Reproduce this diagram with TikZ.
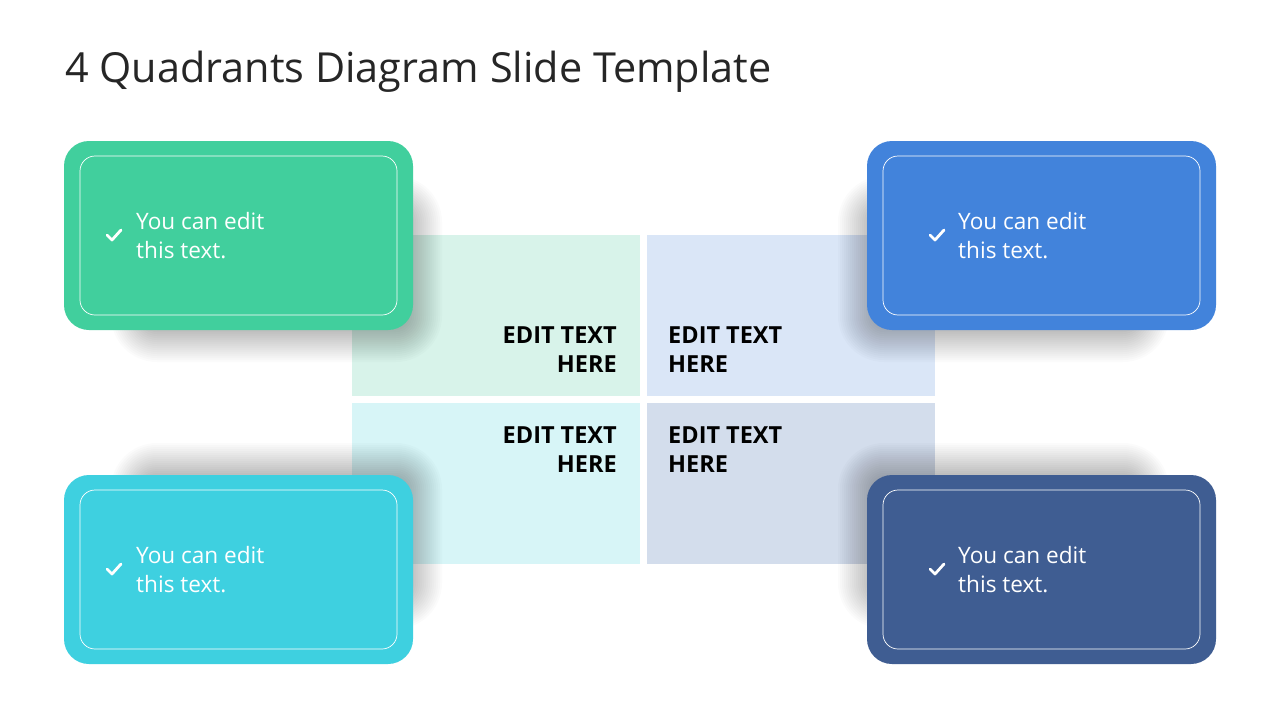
\documentclass[tikz,border=0pt]{standalone}
\usepackage{fontspec}
\setmainfont{Open Sans}
\definecolor{cgreen}{HTML}{41CF9D}
\definecolor{cblue}{HTML}{4283DB}
\definecolor{ccyan}{HTML}{3ED0E0}
\definecolor{cnavy}{HTML}{3F5D92}
\definecolor{qgreen}{HTML}{D8F3EA}
\definecolor{qblue}{HTML}{DAE6F7}
\definecolor{qcyan}{HTML}{D7F5F7}
\definecolor{qnavy}{HTML}{D3DDEC}
\definecolor{titlecol}{HTML}{262626}
\tikzset{
  card/.style={rectangle, rounded corners=25pt, minimum width=349pt, minimum height=189pt, inner sep=0pt},
  inner/.style={rectangle, rounded corners=15pt, minimum width=317pt, minimum height=159pt, inner sep=0pt, draw=white, line width=0.7pt},
  quad/.style={rectangle, minimum width=288pt, minimum height=161pt, inner sep=0pt},
  cardtxt/.style={text=white, font=\fontsize{22.6}{27}\selectfont, inner sep=0pt},
  quadtxt/.style={text=black, font=\fontsize{23.5}{28}\selectfont\bfseries, inner sep=0pt},
  checkmk/.style={draw=white, line width=2.8pt, line cap=round, line join=round},
  shadowlayer/.style={fill=black, fill opacity=0.015, draw=none},
}
\begin{document}
\begin{tikzpicture}[x=1pt, y=-1pt]
\useasboundingbox[fill=white] (0,0) rectangle (1280,720);
\node[anchor=base west, text=titlecol, font=\fontsize{41.4}{50}\selectfont, inner sep=0pt] (title) at (65,82) {4 Quadrants Diagram Slide Template};
% quadrants
\node[quad, fill=qgreen] (q1) at (496,315.5) {};
\node[quad, fill=qblue] (q2) at (790.5,315.5) {};
\node[quad, fill=qcyan] (q3) at (496,483.5) {};
\node[quad, fill=qnavy] (q4) at (790.5,483.5) {};
\node[quadtxt, anchor=base east] (q1a) at (617,343) {EDIT TEXT};
\node[quadtxt, anchor=base east] (q1b) at (617,372) {HERE};
\node[quadtxt, anchor=base west] (q2a) at (668,343) {EDIT TEXT};
\node[quadtxt, anchor=base west] (q2b) at (668,372) {HERE};
\node[quadtxt, anchor=base east] (q3a) at (617,443) {EDIT TEXT};
\node[quadtxt, anchor=base east] (q3b) at (617,472) {HERE};
\node[quadtxt, anchor=base west] (q4a) at (668,443) {EDIT TEXT};
\node[quadtxt, anchor=base west] (q4b) at (668,472) {HERE};
% soft shadows, shifted toward the centre
\foreach \xa/\ya/\xb/\yb in {135/200/418/338, 862/200/1145/338, 135/467/418/605, 862/467/1145/605}{
  \foreach \k in {0,...,19}{
    \pgfmathsetmacro{\e}{24-2*\k}
    \pgfmathsetmacro{\r}{max(3,22+\e)}
    \fill[shadowlayer, rounded corners=\r pt] (\xa-\e, \ya-\e) rectangle (\xb+\e, \yb+\e);
  }
}
% cards
\node[card, fill=cgreen] (c1) at (238.5,235.5) {};
\node[card, fill=cblue] (c2) at (1041.5,235.5) {};
\node[card, fill=ccyan] (c3) at (238.5,569.5) {};
\node[card, fill=cnavy] (c4) at (1041.5,569.5) {};
\node[inner] (i1) at (c1) {};
\node[inner] (i2) at (c2) {};
\node[inner] (i3) at (c3) {};
\node[inner] (i4) at (c4) {};
% card texts
\node[cardtxt, anchor=base west] (t1a) at (136,229) {You can edit};
\node[cardtxt, anchor=base west] (t1b) at (136,258) {this text.};
\node[cardtxt, anchor=base west] (t2a) at (958,229) {You can edit};
\node[cardtxt, anchor=base west] (t2b) at (958,258) {this text.};
\node[cardtxt, anchor=base west] (t3a) at (136,563) {You can edit};
\node[cardtxt, anchor=base west] (t3b) at (136,592) {this text.};
\node[cardtxt, anchor=base west] (t4a) at (958,563) {You can edit};
\node[cardtxt, anchor=base west] (t4b) at (958,592) {this text.};
% check marks
\draw[checkmk] (107,235) -- (112,240) -- (121,230);
\draw[checkmk] (930,235) -- (935,240) -- (944,230);
\draw[checkmk] (107,569) -- (112,574) -- (121,564);
\draw[checkmk] (930,569) -- (935,574) -- (944,564);
\end{tikzpicture}
\end{document}
